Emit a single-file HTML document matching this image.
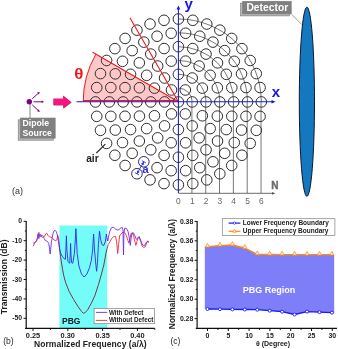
<!DOCTYPE html>
<html><head><meta charset="utf-8"><title>Figure</title>
<style>
html,body{margin:0;padding:0;background:#fff;}
svg{display:block;font-family:"Liberation Sans",sans-serif;}
</style></head><body>
<svg width="338" height="349" viewBox="0 0 338 349">
<rect width="338" height="349" fill="#ffffff"/>
<path d="M178.4 101.7 L83.2 101.7 A95.2 95.2 0 0 1 95.95 54.1 Z" fill="#ffc8c8" stroke="none"/>
<path d="M83.2 101.7 A95.2 95.2 0 0 1 95.95 54.1" fill="none" stroke="#f01818" stroke-width="1"/>
<path d="M178.4 88.13 A13.82 13.82 0 0 1 192.22 101.95 M191.92 101.95 V193.3 M178.4 74.31 A27.64 27.64 0 0 1 206.04 101.95 M205.74 101.95 V193.3 M178.4 60.49 A41.46 41.46 0 0 1 219.86 101.95 M219.56 101.95 V193.3 M178.4 46.67 A55.28 55.28 0 0 1 233.68 101.95 M233.38 101.95 V193.3 M178.4 32.85 A69.1 69.1 0 0 1 247.5 101.95 M247.2 101.95 V193.3 M178.4 19.03 A82.92 82.92 0 0 1 261.32 101.95 M261.02 101.95 V193.3" fill="none" stroke="#484848" stroke-width="0.75"/>
<path d="M178.4 193.3 H273" fill="none" stroke="#505050" stroke-width="0.85"/>
<path d="M275.2 193.3 l-3 -1.4 v2.8 z" fill="#505050"/>
<g fill="none" stroke="#2e2e2e" stroke-width="1"><circle cx="178.4" cy="101.95" r="5.3"/><circle cx="192.22" cy="101.95" r="5.3"/><circle cx="185.31" cy="89.98" r="5.3"/><circle cx="171.49" cy="89.98" r="5.3"/><circle cx="164.58" cy="101.95" r="5.3"/><circle cx="171.49" cy="113.92" r="5.3"/><circle cx="185.31" cy="113.92" r="5.3"/><circle cx="206.04" cy="101.95" r="5.3"/><circle cx="202.34" cy="88.13" r="5.3"/><circle cx="192.22" cy="78.01" r="5.3"/><circle cx="178.4" cy="74.31" r="5.3"/><circle cx="164.58" cy="78.01" r="5.3"/><circle cx="154.46" cy="88.13" r="5.3"/><circle cx="150.76" cy="101.95" r="5.3"/><circle cx="154.46" cy="115.77" r="5.3"/><circle cx="164.58" cy="125.89" r="5.3"/><circle cx="178.4" cy="129.59" r="5.3"/><circle cx="192.22" cy="125.89" r="5.3"/><circle cx="202.34" cy="115.77" r="5.3"/><circle cx="219.86" cy="101.95" r="5.3"/><circle cx="217.36" cy="87.77" r="5.3"/><circle cx="210.16" cy="75.3" r="5.3"/><circle cx="199.13" cy="66.04" r="5.3"/><circle cx="185.6" cy="61.12" r="5.3"/><circle cx="171.2" cy="61.12" r="5.3"/><circle cx="157.67" cy="66.04" r="5.3"/><circle cx="146.64" cy="75.3" r="5.3"/><circle cx="139.44" cy="87.77" r="5.3"/><circle cx="136.94" cy="101.95" r="5.3"/><circle cx="139.44" cy="116.13" r="5.3"/><circle cx="146.64" cy="128.6" r="5.3"/><circle cx="157.67" cy="137.86" r="5.3"/><circle cx="171.2" cy="142.78" r="5.3"/><circle cx="185.6" cy="142.78" r="5.3"/><circle cx="199.13" cy="137.86" r="5.3"/><circle cx="210.16" cy="128.6" r="5.3"/><circle cx="217.36" cy="116.13" r="5.3"/><circle cx="233.68" cy="101.95" r="5.3"/><circle cx="231.8" cy="87.64" r="5.3"/><circle cx="226.27" cy="74.31" r="5.3"/><circle cx="217.49" cy="62.86" r="5.3"/><circle cx="206.04" cy="54.08" r="5.3"/><circle cx="192.71" cy="48.55" r="5.3"/><circle cx="178.4" cy="46.67" r="5.3"/><circle cx="164.09" cy="48.55" r="5.3"/><circle cx="150.76" cy="54.08" r="5.3"/><circle cx="139.31" cy="62.86" r="5.3"/><circle cx="130.53" cy="74.31" r="5.3"/><circle cx="125" cy="87.64" r="5.3"/><circle cx="123.12" cy="101.95" r="5.3"/><circle cx="125" cy="116.26" r="5.3"/><circle cx="130.53" cy="129.59" r="5.3"/><circle cx="139.31" cy="141.04" r="5.3"/><circle cx="150.76" cy="149.82" r="5.3"/><circle cx="164.09" cy="155.35" r="5.3"/><circle cx="178.4" cy="157.23" r="5.3"/><circle cx="192.71" cy="155.35" r="5.3"/><circle cx="206.04" cy="149.82" r="5.3"/><circle cx="217.49" cy="141.04" r="5.3"/><circle cx="226.27" cy="129.59" r="5.3"/><circle cx="231.8" cy="116.26" r="5.3"/><circle cx="247.5" cy="101.95" r="5.3"/><circle cx="245.99" cy="87.58" r="5.3"/><circle cx="241.53" cy="73.84" r="5.3"/><circle cx="234.3" cy="61.33" r="5.3"/><circle cx="224.64" cy="50.6" r="5.3"/><circle cx="212.95" cy="42.11" r="5.3"/><circle cx="199.75" cy="36.23" r="5.3"/><circle cx="185.62" cy="33.23" r="5.3"/><circle cx="171.18" cy="33.23" r="5.3"/><circle cx="157.05" cy="36.23" r="5.3"/><circle cx="143.85" cy="42.11" r="5.3"/><circle cx="132.16" cy="50.6" r="5.3"/><circle cx="122.5" cy="61.33" r="5.3"/><circle cx="115.27" cy="73.84" r="5.3"/><circle cx="110.81" cy="87.58" r="5.3"/><circle cx="109.3" cy="101.95" r="5.3"/><circle cx="110.81" cy="116.32" r="5.3"/><circle cx="115.27" cy="130.06" r="5.3"/><circle cx="122.5" cy="142.57" r="5.3"/><circle cx="132.16" cy="153.3" r="5.3"/><circle cx="157.05" cy="167.67" r="5.3"/><circle cx="171.18" cy="170.67" r="5.3"/><circle cx="185.62" cy="170.67" r="5.3"/><circle cx="199.75" cy="167.67" r="5.3"/><circle cx="212.95" cy="161.79" r="5.3"/><circle cx="224.64" cy="153.3" r="5.3"/><circle cx="234.3" cy="142.57" r="5.3"/><circle cx="241.53" cy="130.06" r="5.3"/><circle cx="245.99" cy="116.32" r="5.3"/><circle cx="261.32" cy="101.95" r="5.3"/><circle cx="260.06" cy="87.55" r="5.3"/><circle cx="256.32" cy="73.59" r="5.3"/><circle cx="250.21" cy="60.49" r="5.3"/><circle cx="241.92" cy="48.65" r="5.3"/><circle cx="231.7" cy="38.43" r="5.3"/><circle cx="219.86" cy="30.14" r="5.3"/><circle cx="206.76" cy="24.03" r="5.3"/><circle cx="192.8" cy="20.29" r="5.3"/><circle cx="178.4" cy="19.03" r="5.3"/><circle cx="164" cy="20.29" r="5.3"/><circle cx="150.04" cy="24.03" r="5.3"/><circle cx="136.94" cy="30.14" r="5.3"/><circle cx="125.1" cy="38.43" r="5.3"/><circle cx="114.88" cy="48.65" r="5.3"/><circle cx="106.59" cy="60.49" r="5.3"/><circle cx="100.48" cy="73.59" r="5.3"/><circle cx="96.74" cy="87.55" r="5.3"/><circle cx="95.48" cy="101.95" r="5.3"/><circle cx="96.74" cy="116.35" r="5.3"/><circle cx="100.48" cy="130.31" r="5.3"/><circle cx="106.59" cy="143.41" r="5.3"/><circle cx="114.88" cy="155.25" r="5.3"/><circle cx="125.1" cy="165.47" r="5.3"/><circle cx="150.04" cy="179.87" r="5.3"/><circle cx="164" cy="183.61" r="5.3"/><circle cx="178.4" cy="184.87" r="5.3"/><circle cx="192.8" cy="183.61" r="5.3"/><circle cx="206.76" cy="179.87" r="5.3"/><circle cx="219.86" cy="173.76" r="5.3"/><circle cx="231.7" cy="165.47" r="5.3"/><circle cx="241.92" cy="155.25" r="5.3"/><circle cx="250.21" cy="143.41" r="5.3"/><circle cx="256.32" cy="130.31" r="5.3"/><circle cx="260.06" cy="116.35" r="5.3"/></g>
<g fill="none" stroke="#2c2c5c" stroke-width="1"><circle cx="143.85" cy="161.79" r="5.3"/><circle cx="136.94" cy="173.76" r="5.3"/></g>
<path d="M178.4 101.7 L92.66 52.2 M178.4 101.7 L129.9 17.7" fill="none" stroke="#f01818" stroke-width="1.1"/>
<path d="M83.2 100.6 H178.4" fill="none" stroke="#f01818" stroke-width="1.2"/>
<path d="M76.5 101.8 H274 M178.4 193 V7" fill="none" stroke="#1818e0" stroke-width="1.05"/>
<path d="M275.5 101.7 l-4 -1.8 v3.6 z M178.4 5.5 l-1.8 4 h3.6 z" fill="#1414e6"/>
<text x="188.6" y="9" font-size="15" font-weight="bold" fill="#1414e6" text-anchor="middle">y</text>
<text x="275.8" y="96.6" font-size="15" font-weight="bold" fill="#1414e6" text-anchor="middle">x</text>
<text transform="translate(78.9 79.2) scale(1.18 1)" font-size="14.4" font-weight="bold" fill="#f01818" text-anchor="middle">θ</text>
<text x="178.4" y="203.9" font-size="8.4" fill="#666666" text-anchor="middle">0</text>
<text x="192.22" y="203.9" font-size="8.4" fill="#666666" text-anchor="middle">1</text>
<text x="206.04" y="203.9" font-size="8.4" fill="#666666" text-anchor="middle">2</text>
<text x="219.86" y="203.9" font-size="8.4" fill="#666666" text-anchor="middle">3</text>
<text x="233.68" y="203.9" font-size="8.4" fill="#666666" text-anchor="middle">4</text>
<text x="247.5" y="203.9" font-size="8.4" fill="#666666" text-anchor="middle">5</text>
<text x="261.32" y="203.9" font-size="8.4" fill="#666666" text-anchor="middle">6</text>
<text x="274.9" y="188.5" font-size="10" font-weight="bold" fill="#6a6a6a" stroke="#6a6a6a" stroke-width="0.35" text-anchor="middle">N</text>
<path d="M143.85 161.79 L136.94 173.76" stroke="#2828e8" stroke-width="0.9" fill="none"/>
<path d="M143.85 161.79 L143.65 165.14 L141.05 163.64 Z" fill="#2828e8"/>
<path d="M136.94 173.76 L137.14 170.41 L139.74 171.91 Z" fill="#2828e8"/>
<path d="M145.84 162.94 L141.86 160.64" stroke="#2828e8" stroke-width="0.9" fill="none"/>
<path d="M134.95 172.61 L138.93 174.91" stroke="#2828e8" stroke-width="0.9" fill="none"/>
<text x="145.4" y="173" font-size="11.5" font-weight="bold" fill="#2828e8" text-anchor="middle">a</text>
<path d="M96.4 153 L105.3 144.1" stroke="#202020" stroke-width="1.1" fill="none"/>
<text x="92.4" y="161.7" font-size="10.2" font-weight="bold" fill="#202020" text-anchor="middle">air</text>
<path d="M30 103 V118" stroke="#686868" stroke-width="0.8" fill="none"/>
<circle cx="29.3" cy="101.8" r="2.7" fill="#800080"/>
<path d="M32.3 98.7 L38.6 93 M33.5 101.8 H42.6 M32.3 104.9 L38.6 110.8" stroke="#800080" stroke-width="1" fill="none"/>
<path d="M39.8 91.9 L38.89 94.47 L37.15 92.54 Z" fill="#800080"/>
<path d="M44 101.8 L41.6 103.1 L41.6 100.5 Z" fill="#800080"/>
<path d="M39.8 111.9 L37.15 111.26 L38.89 109.33 Z" fill="#800080"/>
<rect x="18.2" y="119.8" width="35.3" height="20.4" fill="#b8b8b8" stroke="#747474" stroke-width="0.6"/>
<rect x="20.1" y="117.7" width="35.5" height="20.8" fill="#808080"/>
<text x="22.5" y="126.2" font-size="8.7" font-weight="bold" fill="#ffffff">Dipole</text>
<text x="22.5" y="136.2" font-size="8.7" font-weight="bold" fill="#ffffff">Source</text>
<path d="M53.7 99 h9.8 v-3 l8.2 6.4 l-8.2 6.4 v-3.2 h-9.8 z" fill="#8a4a78"/>
<path d="M53.3 98.5 h9.8 v-2.9 l8 6.3 l-8 6.3 v-3.2 h-9.8 z" fill="#f8147c"/>
<path d="M291.7 14.4 L301.8 24.6" stroke="#808080" stroke-width="0.8" fill="none"/>
<rect x="240.6" y="3.1" width="49" height="12.8" fill="#b8b8b8" stroke="#747474" stroke-width="0.6"/>
<rect x="242.2" y="1.1" width="49.5" height="13.1" fill="#808080"/>
<text x="267.3" y="11.1" font-size="10.3" font-weight="bold" fill="#ffffff" text-anchor="middle">Detector</text>
<ellipse cx="306.9" cy="101.75" rx="7.6" ry="94.6" fill="#1478be" stroke="#101830" stroke-width="1"/>
<text x="12" y="194.2" font-size="9" fill="#303030">(a)</text>
<path d="M33.3 246.3 L34.5 243 L35.9 242 L36.9 239.8 L37.7 237.4 L38.4 233.8 L38.9 232.4 L39.5 233.8 L39.8 236.2 L40.8 236.8 L41.6 235 L42.8 235.6 L44 236.8 L45.2 235 L46.3 233.2 L47.2 233.8 L48.1 235.6 L49.3 236.8 L50.5 237.1 L51.7 237.4 L52.9 238.6 L54.3 240.3 L55.8 240.9 L57 239.2 L57.8 235.6 L58.5 237.4 L59 242.1 L59.7 249.2 L60.5 256.3 L61.4 262 L62.6 269.5 L63.6 275 L65.7 282.8 L69.2 291.6 L73.7 299.6 L78.1 306.7 L81.6 311.5 L83.4 313.3 L85.2 312.6 L87.9 309.4 L91.4 303.2 L95 295.2 L98.5 284.5 L101.5 273.9 L103.8 265 L106.2 252 L108.2 244.6 L110 241.6 L111.5 238.7 L113.7 236.5 L115.6 236.5 L116.6 241.7 L117.7 253.5 L118.6 244.6 L119.6 235.8 L121.5 233.5 L123.3 232.1 L124.8 232.8 L126.3 235.5 L127.8 240.2 L128.9 243.1 L130 238.7 L131 233.5 L132.5 232.8 L133.7 236.5 L134.9 241.7 L135.9 245.4 L136.9 241.7 L138.1 238 L139.3 237.2 L140.8 241.7 L142.2 246.1 L143.7 247.6 L145.2 246.8 L146.7 243.1 L147.9 240.9 L148.8 241.7" fill="none" stroke="#e82838" stroke-width="0.9" stroke-linejoin="round"/>
<path d="M33.3 243.3 L34.5 242.7 L35.7 241.5 L36.9 240.3 L37.5 237.4 L38.1 233.8 L38.5 237.4 L38.9 238.6 L39.6 235.6 L40.4 234.4 L41.3 236.2 L42.2 237.4 L43.4 236.8 L44.3 238.6 L45.2 240.3 L46.3 240.9 L47.5 241.5 L48.7 243.3 L49.5 248 L50.1 254 L50.7 249.2 L51.4 242.1 L52.3 237.4 L53.1 233.2 L54 230.9 L55.2 230.3 L56.2 231.5 L57 233.8 L57.8 237.4 L58.5 242.1 L59.4 248 L60.5 252.8 L62.3 256.3 L64.1 258.7 L65.4 259.3 L65.9 250 L66.4 235.8 L66.9 250 L68 261.5 L69.7 263.3 L70.2 255 L70.6 243.5 L71 255 L71.6 262.6 L72.8 263.3 L74.4 253.5 L75.3 240 L75.9 228.7 L76.5 240 L77.2 253.5 L78.9 266 L81.5 274 L84.2 277 L86.9 274 L89.5 267.7 L91.3 260.6 L92.6 250 L93.6 234 L94.5 250 L95.8 264.2 L96.6 271.3 L97.5 262.4 L98.4 244.6 L99.5 231.3 L100.6 239.3 L102 244.6 L103.7 245.5 L105.5 241.1 L106.4 234 L106.9 237.5 L107.8 241.1 L108.7 235.8 L110 230.6 L111.5 227.6 L113.7 227.2 L115.9 229.5 L118.1 230.1 L120.4 228.4 L122.1 227.2 L123 229.8 L123.5 255 L123.9 232.8 L124.8 228.1 L126.6 228.7 L128 231.3 L129.2 237.2 L130.3 245.4 L131 238.7 L131.9 233.5 L133.4 232.8 L134.9 235.8 L136.3 239.4 L137.8 238 L139 236.5 L140.3 239.4 L141.8 243.1 L143.3 245.8 L144.8 245.4 L146.2 242.4 L147.7 241.4 L148.8 242.4" fill="none" stroke="#6e28ee" stroke-width="0.9" stroke-linejoin="round"/>
<rect x="59.4" y="225.5" width="47.8" height="102.9" fill="#74fcf8" style="mix-blend-mode:multiply"/>
<path d="M26.2 221 V329 M25 328.4 H154.8" fill="none" stroke="#101010" stroke-width="1.2"/>
<path d="M23.6 221.3 H26.2 M23.6 240.7 H26.2 M23.6 260.1 H26.2 M23.6 279.5 H26.2 M23.6 298.9 H26.2 M23.6 318.3 H26.2 M24.9 231 H26.2 M24.9 250.4 H26.2 M24.9 269.8 H26.2 M24.9 289.2 H26.2 M24.9 308.6 H26.2 M33 328.4 V331 M67.8 328.4 V331 M102.6 328.4 V331 M137.4 328.4 V331 M50.4 328.4 V329.9 M85.2 328.4 V329.9 M120 328.4 V329.9 M154.8 328.4 V329.9" fill="none" stroke="#101010" stroke-width="1"/>
<text x="22.1" y="223.3" font-size="6.8" font-weight="bold" fill="#202020" text-anchor="end">0</text>
<text x="22.1" y="242.7" font-size="6.8" font-weight="bold" fill="#202020" text-anchor="end">-10</text>
<text x="22.1" y="262.1" font-size="6.8" font-weight="bold" fill="#202020" text-anchor="end">-20</text>
<text x="22.1" y="281.5" font-size="6.8" font-weight="bold" fill="#202020" text-anchor="end">-30</text>
<text x="22.1" y="300.9" font-size="6.8" font-weight="bold" fill="#202020" text-anchor="end">-40</text>
<text x="22.1" y="320.3" font-size="6.8" font-weight="bold" fill="#202020" text-anchor="end">-50</text>
<text x="33" y="337.6" font-size="7.4" font-weight="bold" fill="#202020" text-anchor="middle">0.25</text>
<text x="67.8" y="337.6" font-size="7.4" font-weight="bold" fill="#202020" text-anchor="middle">0.30</text>
<text x="102.6" y="337.6" font-size="7.4" font-weight="bold" fill="#202020" text-anchor="middle">0.35</text>
<text x="137.4" y="337.6" font-size="7.4" font-weight="bold" fill="#202020" text-anchor="middle">0.40</text>
<text x="71.2" y="324.3" font-size="8.5" font-weight="bold" fill="#0a1a20" text-anchor="middle">PBG</text>
<text x="90.3" y="346.5" font-size="8.5" font-weight="bold" fill="#202020" text-anchor="middle" textLength="112.6" lengthAdjust="spacing">Normalized Frequency (a/λ)</text>
<text transform="translate(7.1 276.85) rotate(-90)" font-size="8.5" font-weight="bold" fill="#202020" text-anchor="middle" textLength="75" lengthAdjust="spacing">Transmission (dB)</text>
<text x="3.2" y="344.3" font-size="8.6" fill="#303030">(b)</text>
<rect x="94.1" y="308.5" width="60.5" height="15.2" fill="#ffffff" stroke="#808080" stroke-width="0.7"/>
<path d="M95.9 312.4 H107.2" stroke="#6428f0" stroke-width="0.9"/>
<path d="M95.9 320.4 H107.2" stroke="#e83030" stroke-width="0.9"/>
<text x="108.9" y="314.5" font-size="6.3" font-weight="bold" fill="#202020">With Defect</text>
<text x="108.9" y="322.3" font-size="6.3" font-weight="bold" fill="#202020">Without Defect</text>
<path d="M204.8 246.6 L207.5 246.6 L219.94 245.6 L232.38 245 L244.82 248 L257.26 254.3 L269.7 254.5 L282.14 254.6 L294.58 254.7 L307.02 254.7 L319.46 254.7 L331.9 254.7 L334.2 254.7 L334.2 312.7 L331.9 312.7 L319.46 312.2 L307.02 311.6 L294.58 314.5 L282.14 311.7 L269.7 310.7 L257.26 309.7 L244.82 309.5 L232.38 309.4 L219.94 309.2 L207.5 309 L204.8 309 Z" fill="#7e7ef8"/>
<path d="M207.5 246.6 L219.94 245.6 L232.38 245 L244.82 248 L257.26 254.3 L269.7 254.5 L282.14 254.6 L294.58 254.7 L307.02 254.7 L319.46 254.7 L331.9 254.7" fill="none" stroke="#ff8a10" stroke-width="1.3" stroke-linejoin="round"/>
<path d="M207.5 309 L219.94 309.2 L232.38 309.4 L244.82 309.5 L257.26 309.7 L269.7 310.7 L282.14 311.7 L294.58 314.5 L307.02 311.6 L319.46 312.2 L331.9 312.7" fill="none" stroke="#1818f0" stroke-width="1.3" stroke-linejoin="round"/>
<path d="M207.5 243.3 L209.6 247 H205.4 Z" fill="#fff4dc" stroke="#ff8a10" stroke-width="0.8"/>
<path d="M219.94 242.3 L222.04 246 H217.84 Z" fill="#fff4dc" stroke="#ff8a10" stroke-width="0.8"/>
<path d="M232.38 241.7 L234.48 245.4 H230.28 Z" fill="#fff4dc" stroke="#ff8a10" stroke-width="0.8"/>
<path d="M244.82 244.7 L246.92 248.4 H242.72 Z" fill="#fff4dc" stroke="#ff8a10" stroke-width="0.8"/>
<path d="M257.26 251 L259.36 254.7 H255.16 Z" fill="#fff4dc" stroke="#ff8a10" stroke-width="0.8"/>
<path d="M269.7 251.2 L271.8 254.9 H267.6 Z" fill="#fff4dc" stroke="#ff8a10" stroke-width="0.8"/>
<path d="M282.14 251.3 L284.24 255 H280.04 Z" fill="#fff4dc" stroke="#ff8a10" stroke-width="0.8"/>
<path d="M294.58 251.4 L296.68 255.1 H292.48 Z" fill="#fff4dc" stroke="#ff8a10" stroke-width="0.8"/>
<path d="M307.02 251.4 L309.12 255.1 H304.92 Z" fill="#fff4dc" stroke="#ff8a10" stroke-width="0.8"/>
<path d="M319.46 251.4 L321.56 255.1 H317.36 Z" fill="#fff4dc" stroke="#ff8a10" stroke-width="0.8"/>
<path d="M331.9 251.4 L334 255.1 H329.8 Z" fill="#fff4dc" stroke="#ff8a10" stroke-width="0.8"/>
<circle cx="207.5" cy="309" r="1.5" fill="#ffffff" stroke="#1818f0" stroke-width="0.9"/>
<circle cx="219.94" cy="309.2" r="1.5" fill="#ffffff" stroke="#1818f0" stroke-width="0.9"/>
<circle cx="232.38" cy="309.4" r="1.5" fill="#ffffff" stroke="#1818f0" stroke-width="0.9"/>
<circle cx="244.82" cy="309.5" r="1.5" fill="#ffffff" stroke="#1818f0" stroke-width="0.9"/>
<circle cx="257.26" cy="309.7" r="1.5" fill="#ffffff" stroke="#1818f0" stroke-width="0.9"/>
<circle cx="269.7" cy="310.7" r="1.5" fill="#ffffff" stroke="#1818f0" stroke-width="0.9"/>
<circle cx="282.14" cy="311.7" r="1.5" fill="#ffffff" stroke="#1818f0" stroke-width="0.9"/>
<circle cx="294.58" cy="314.5" r="1.5" fill="#ffffff" stroke="#1818f0" stroke-width="0.9"/>
<circle cx="307.02" cy="311.6" r="1.5" fill="#ffffff" stroke="#1818f0" stroke-width="0.9"/>
<circle cx="319.46" cy="312.2" r="1.5" fill="#ffffff" stroke="#1818f0" stroke-width="0.9"/>
<circle cx="331.9" cy="312.7" r="1.5" fill="#ffffff" stroke="#1818f0" stroke-width="0.9"/>
<path d="M197.1 221 V329 M195.8 328.4 H337" fill="none" stroke="#101010" stroke-width="1.2"/>
<path d="M194.6 221.4 H197.1 M194.6 240.85 H197.1 M194.6 260.3 H197.1 M194.6 279.75 H197.1 M194.6 299.2 H197.1 M194.6 318.65 H197.1 M195.8 231.1 H197.1 M195.8 250.55 H197.1 M195.8 270 H197.1 M195.8 289.45 H197.1 M195.8 308.9 H197.1 M207.5 328.4 V331 M228.3 328.4 V331 M249.1 328.4 V331 M269.9 328.4 V331 M290.7 328.4 V331 M311.5 328.4 V331 M332.3 328.4 V331 M217.9 328.4 V329.9 M238.7 328.4 V329.9 M259.5 328.4 V329.9 M280.3 328.4 V329.9 M301.1 328.4 V329.9 M321.9 328.4 V329.9" fill="none" stroke="#101010" stroke-width="1"/>
<text x="193.3" y="223.5" font-size="6.9" font-weight="bold" fill="#202020" text-anchor="end">0.38</text>
<text x="193.3" y="242.95" font-size="6.9" font-weight="bold" fill="#202020" text-anchor="end">0.36</text>
<text x="193.3" y="262.4" font-size="6.9" font-weight="bold" fill="#202020" text-anchor="end">0.34</text>
<text x="193.3" y="281.85" font-size="6.9" font-weight="bold" fill="#202020" text-anchor="end">0.32</text>
<text x="193.3" y="301.3" font-size="6.9" font-weight="bold" fill="#202020" text-anchor="end">0.30</text>
<text x="193.3" y="320.75" font-size="6.9" font-weight="bold" fill="#202020" text-anchor="end">0.28</text>
<text x="207.5" y="337.6" font-size="6.9" font-weight="bold" fill="#202020" text-anchor="middle">0</text>
<text x="228.3" y="337.6" font-size="6.9" font-weight="bold" fill="#202020" text-anchor="middle">5</text>
<text x="249.1" y="337.6" font-size="6.9" font-weight="bold" fill="#202020" text-anchor="middle">10</text>
<text x="269.9" y="337.6" font-size="6.9" font-weight="bold" fill="#202020" text-anchor="middle">15</text>
<text x="290.7" y="337.6" font-size="6.9" font-weight="bold" fill="#202020" text-anchor="middle">20</text>
<text x="311.5" y="337.6" font-size="6.9" font-weight="bold" fill="#202020" text-anchor="middle">25</text>
<text x="332.3" y="337.6" font-size="6.9" font-weight="bold" fill="#202020" text-anchor="middle">30</text>
<text x="273" y="346" font-size="7" font-weight="bold" fill="#202020" text-anchor="middle">θ (Degree)</text>
<text transform="translate(175.4 274.1) rotate(-90)" font-size="8.4" font-weight="bold" fill="#202020" text-anchor="middle" textLength="110.2" lengthAdjust="spacing">Normalized Frequency (a/λ)</text>
<text x="269" y="292.8" font-size="9" font-weight="bold" fill="#ffffff" text-anchor="middle">PBG Region</text>
<text x="170.4" y="343.6" font-size="8.6" fill="#282828">(c)</text>
<rect x="222.3" y="218.7" width="112.6" height="16.8" fill="#ffffff" stroke="#808080" stroke-width="0.7"/>
<path d="M228.6 223.1 H240.4" stroke="#1818f0" stroke-width="1.2"/>
<circle cx="234.5" cy="223.1" r="1.2" fill="#fff" stroke="#1818f0" stroke-width="0.7"/>
<path d="M228.6 231.3 H240.4" stroke="#ff8a10" stroke-width="1.2"/>
<path d="M234.5 229.3 l1.8 3 h-3.6 z" fill="#fff4dc" stroke="#ff8a10" stroke-width="0.7"/>
<text x="242.8" y="225.2" font-size="6.5" font-weight="bold" fill="#202020">Lower Frequency Boundary</text>
<text x="242.8" y="233.3" font-size="6.5" font-weight="bold" fill="#202020">Upper Frequency Boundary</text>
</svg>
</body></html>
